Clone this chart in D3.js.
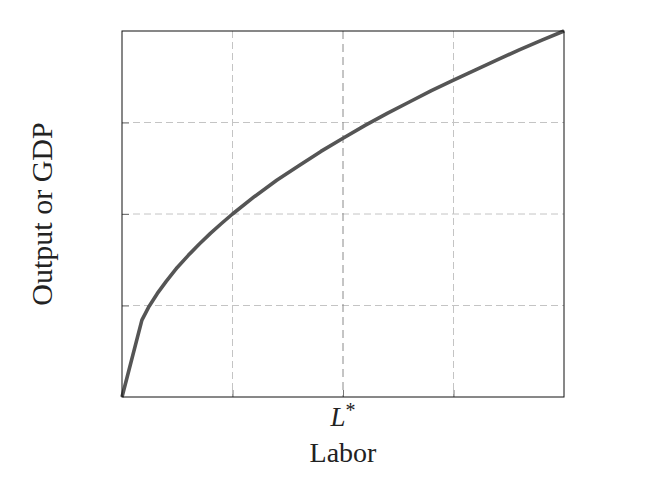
<!DOCTYPE html>
<html>
<head>
<meta charset="utf-8">
<script src="https://cdn.jsdelivr.net/npm/d3@7"></script>
<style>
  body { margin: 0; background: #fff; }
  text { font-family: "Liberation Serif", "DejaVu Serif", serif; fill: #222; }
</style>
</head>
<body>
<div id="chart"></div>
<script>
// labor share (0..1) and output
const labor  = [0, 0.045, 0.06, 0.08, 0.1, 0.125, 0.15, 0.175, 0.2, 0.225, 0.25, 0.3, 0.35, 0.4, 0.45, 0.5, 0.55, 0.6, 0.65, 0.7, 0.75, 0.8, 0.85, 0.9, 0.95, 1];
const output = [0, 0.21, 0.245, 0.283, 0.316, 0.354, 0.387, 0.418, 0.447, 0.474, 0.5, 0.548, 0.592, 0.632, 0.671, 0.707, 0.742, 0.775, 0.806, 0.837, 0.866, 0.894, 0.922, 0.949, 0.975, 1];

const xTicks = [0.25, 0.5, 0.75];
const yTicks = [0.25, 0.5, 0.75];
const lStar = 0.5;

const width = 646, height = 484;
const plotL = 122, plotR = 564, plotT = 31, plotB = 397;

const svg = d3.select("#chart")
  .append("svg")
  .attr("width", width)
  .attr("height", height);

const x = d3.scaleLinear().domain([0, 1]).range([plotL, plotR]);
const y = d3.scaleLinear().domain([0, 1]).range([plotB, plotT]);

// grid
svg.append("g")
  .selectAll("line")
  .data(xTicks.filter(d => d !== lStar))
  .enter()
  .append("line")
  .attr("x1", d => x(d)).attr("x2", d => x(d))
  .attr("y1", plotT).attr("y2", plotB)
  .attr("stroke", "#c4c4c4")
  .attr("stroke-dasharray", "7,4");

svg.append("g")
  .selectAll("line")
  .data(yTicks)
  .enter()
  .append("line")
  .attr("x1", plotL).attr("x2", plotR)
  .attr("y1", d => y(d)).attr("y2", d => y(d))
  .attr("stroke", "#c4c4c4")
  .attr("stroke-dasharray", "7,4");

// L* line, a bit darker
svg.append("line")
  .attr("x1", x(lStar)).attr("x2", x(lStar))
  .attr("y1", plotT).attr("y2", plotB)
  .attr("stroke", "#8a8a8a")
  .attr("stroke-dasharray", "8,5");

// inner ticks
svg.append("g")
  .attr("transform", `translate(0,${plotB})`)
  .call(d3.axisBottom(x).tickValues(xTicks).tickSize(-7).tickFormat(""))
  .call(g => g.select(".domain").remove())
  .selectAll("line").attr("stroke", "#777");

svg.append("g")
  .attr("transform", `translate(${plotL},0)`)
  .call(d3.axisLeft(y).tickValues(yTicks).tickSize(-7).tickFormat(""))
  .call(g => g.select(".domain").remove())
  .selectAll("line").attr("stroke", "#777");

// curve
const line = d3.line()
  .x((d, i) => x(labor[i]))
  .y(d => y(d));

svg.append("path")
  .datum(output)
  .attr("d", line)
  .attr("fill", "none")
  .attr("stroke", "#555")
  .attr("stroke-width", 3.6)
  .attr("stroke-linejoin", "round");

// frame
svg.append("rect")
  .attr("x", plotL).attr("y", plotT)
  .attr("width", plotR - plotL).attr("height", plotB - plotT)
  .attr("fill", "none")
  .attr("stroke", "#111")
  .attr("stroke-width", 1);

// labels
const lab = svg.append("text")
  .attr("x", x(lStar))
  .attr("y", 426)
  .attr("text-anchor", "middle")
  .attr("font-size", 27);
lab.append("tspan").attr("font-style", "italic").text("L");
lab.append("tspan").attr("dy", -9).attr("font-size", 20).text("*");

svg.append("text")
  .attr("x", x(0.5))
  .attr("y", 462)
  .attr("text-anchor", "middle")
  .attr("font-size", 28)
  .text("Labor");

svg.append("text")
  .attr("transform", `translate(52,${(plotT + plotB) / 2}) rotate(-90)`)
  .attr("text-anchor", "middle")
  .attr("font-size", 30)
  .text("Output or GDP");
</script>
</body>
</html>
